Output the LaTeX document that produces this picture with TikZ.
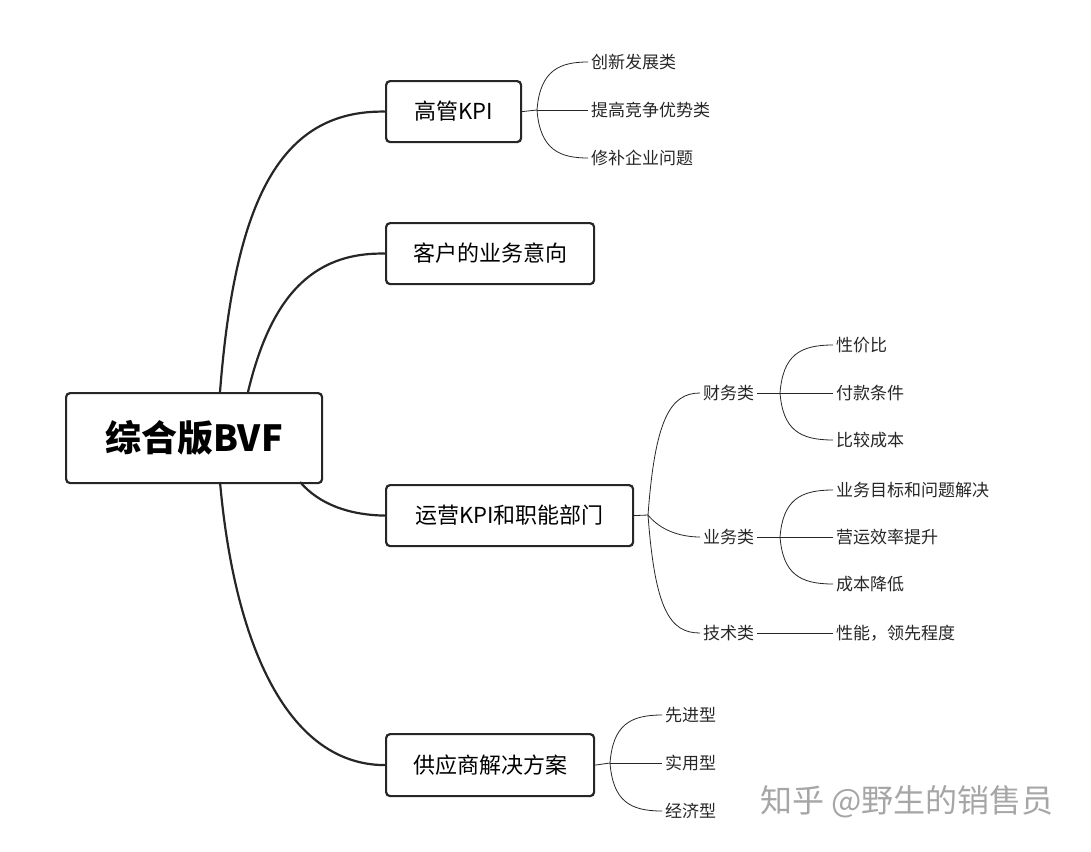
\documentclass[tikz,border=0pt]{standalone}
\usepackage{fontspec}
\setmainfont{Noto Sans CJK SC}
\begin{document}
\begin{tikzpicture}[x=1pt,y=-1pt,
 box/.style={draw=black!85,line width=2.2pt,rounded corners=4pt,anchor=north west,inner sep=0pt,font=\fontsize{22}{24}\selectfont},
 leaf/.style={anchor=west,inner sep=3pt,font=\fontsize{17}{18}\selectfont,text=black!85},
 br/.style={draw=black!85,line width=0.8pt},
 bb/.style={draw=black!85,line width=2.2pt}]
\useasboundingbox (0,0) rectangle (1091,851);
\node[box,minimum width=256pt,minimum height=90pt,font=\fontsize{36}{38}\selectfont\bfseries] (root) at (65,392) {综合版BVF};
\node[box,minimum width=135pt,minimum height=61pt] (a) at (385,80) {高管KPI};
\node[box,minimum width=208pt,minimum height=61pt] (b) at (385,222) {客户的业务意向};
\node[box,minimum width=247pt,minimum height=61pt] (c) at (385,484) {运营KPI和职能部门};
\node[box,minimum width=208pt,minimum height=62pt] (d) at (385,733) {供应商解决方案};
\coordinate (r1) at (220,392); \coordinate (r2) at (248,392);
\coordinate (r3) at (300,482); \coordinate (r4) at (220,482);
\draw[bb] (r1) .. controls (235,200) and (280,110) .. (a.west);
\draw[bb] (r2) .. controls (270,300) and (310,252) .. (b.west);
\draw[bb] (r3) .. controls (320,505) and (350,515) .. (c.west);
\draw[bb] (r4) .. controls (235,650) and (290,765) .. (d.west);
% 高管 leaves
\node[leaf] (a1) at (588,62) {创新发展类};
\node[leaf] (a2) at (588,110) {提高竞争优势类};
\node[leaf] (a3) at (588,158) {修补企业问题};
\coordinate (ah) at (537,110);
\draw[br] (a.east) -- (ah);
\draw[br] (ah) .. controls (540,70) and (560,62) .. (a1.west);
\draw[br] (ah) -- (a2.west);
\draw[br] (ah) .. controls (540,150) and (560,158) .. (a3.west);
% 运营
\coordinate (ch) at (648,515);
\draw[br] (c.east) -- (ch);
\node[leaf] (f) at (700,393) {财务类};
\node[leaf] (g) at (700,537) {业务类};
\node[leaf] (h) at (700,633) {技术类};
\draw[br] (ch) .. controls (655,420) and (670,393) .. (f.west);
\draw[br] (ch) .. controls (660,530) and (680,537) .. (g.west);
\draw[br] (ch) .. controls (655,610) and (670,633) .. (h.west);
\node[leaf] (f1) at (833,345) {性价比};
\node[leaf] (f2) at (833,393) {付款条件};
\node[leaf] (f3) at (833,440) {比较成本};
\coordinate (fh) at (780,393);
\draw[br] (f.east) -- (fh);
\draw[br] (fh) .. controls (783,355) and (800,345) .. (f1.west);
\draw[br] (fh) -- (f2.west);
\draw[br] (fh) .. controls (783,430) and (800,440) .. (f3.west);
\node[leaf] (g1) at (833,490) {业务目标和问题解决};
\node[leaf] (g2) at (833,537) {营运效率提升};
\node[leaf] (g3) at (833,584) {成本降低};
\coordinate (gh) at (780,537);
\draw[br] (g.east) -- (gh);
\draw[br] (gh) .. controls (783,500) and (800,490) .. (g1.west);
\draw[br] (gh) -- (g2.west);
\draw[br] (gh) .. controls (783,574) and (800,584) .. (g3.west);
\node[leaf] (h1) at (833,633) {性能，领先程度};
\draw[br] (h.east) -- (h1.west);
% 供应商
\node[leaf] (d1) at (662,715) {先进型};
\node[leaf] (d2) at (662,763) {实用型};
\node[leaf] (d3) at (662,811) {经济型};
\coordinate (dh) at (610,763);
\draw[br] (d.east) -- (dh);
\draw[br] (dh) .. controls (613,725) and (630,715) .. (d1.west);
\draw[br] (dh) -- (d2.west);
\draw[br] (dh) .. controls (613,801) and (630,811) .. (d3.west);
\node[anchor=west,inner sep=0pt,text=black!35,font=\fontsize{32}{34}\selectfont] (wm) at (760,802) {知乎 @野生的销售员};
\end{tikzpicture}
\end{document}
